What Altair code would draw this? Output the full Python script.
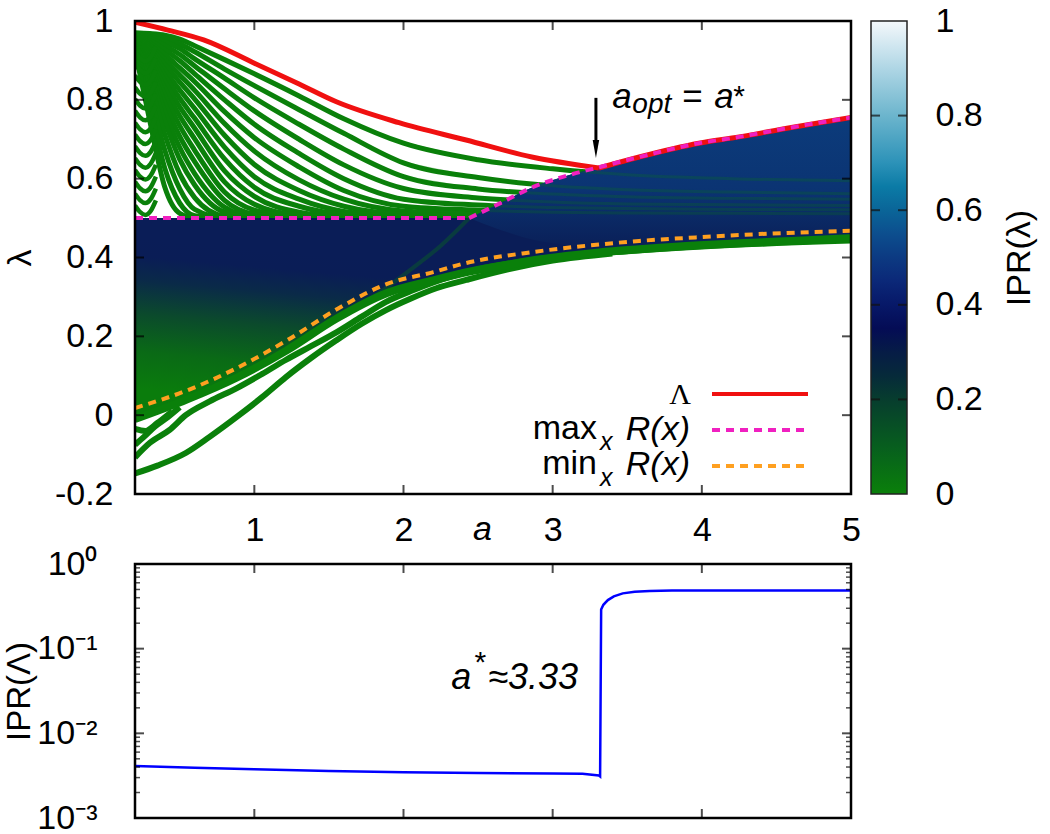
import altair as alt
import pandas as pd

# ---------------- data ----------------
# Lambda (largest eigenvalue), two pieces meeting at a* = 3.31
A_RED1 = [0.2, 0.42, 0.66, 1.0, 1.3, 1.55, 1.97, 2.42, 2.86, 3.31]
L_RED1 = [0.997, 0.977, 0.952, 0.893, 0.84, 0.795, 0.742, 0.698, 0.655, 0.627]
A_RED2 = [3.31, 3.58, 3.98, 4.25, 4.6, 5.0]
L_RED2 = [0.627, 0.655, 0.69, 0.706, 0.73, 0.755]

# max_x R(x)
A_MAX1 = [0.2, 1.0, 2.0, 2.44]
L_MAX1 = [0.5, 0.5, 0.5, 0.5]
A_MAX2 = [2.44, 2.65, 2.87, 3.09, 3.31, 3.58, 3.98, 4.25, 4.6, 5.0]
L_MAX2 = [0.5, 0.538, 0.579, 0.607, 0.629, 0.655, 0.69, 0.706, 0.73, 0.755]

# min_x R(x)
A_MIN = [0.2, 0.55, 0.88, 1.22, 1.55, 1.89, 2.2, 2.42, 2.87, 3.31, 3.58, 3.96, 4.25, 5.0]
L_MIN = [0.018, 0.063, 0.119, 0.19, 0.268, 0.333, 0.363, 0.386, 0.414, 0.433, 0.442, 0.451, 0.457, 0.468]

# dense (continuum) band of eigenvalues
A_DENSE = [0.2, 0.55, 0.88, 1.22, 1.55, 1.89, 2.2, 2.44, 2.65, 2.87, 3.09, 3.31, 3.58, 3.98, 4.25, 4.6, 5.0]
DENSE_LO = [-0.01, 0.04, 0.095, 0.165, 0.245, 0.31, 0.342, 0.364, 0.378, 0.393, 0.404, 0.413, 0.421, 0.431, 0.436, 0.442, 0.449]
DENSE_HI = [0.5, 0.5, 0.5, 0.5, 0.5, 0.5, 0.5, 0.5, 0.538, 0.579, 0.607, 0.629, 0.655, 0.69, 0.706, 0.73, 0.755]

# lighter-blue (more localised) part of the band, right of the kink
A_UPPER = [2.44, 2.65, 2.87, 3.09, 3.31, 3.58, 3.98, 4.25, 4.6, 5.0]
UPPER_LO = [0.5, 0.47, 0.445, 0.432, 0.425, 0.428, 0.436, 0.44, 0.446, 0.452]
UPPER_HI = [0.5, 0.538, 0.579, 0.607, 0.629, 0.655, 0.69, 0.706, 0.73, 0.755]

# isolated eigenvalue branches above the band (fanning out of the top-left corner)
A_FAN = [0.2, 0.3, 0.4, 0.5, 0.6, 0.8, 1.0, 1.3, 1.6, 2.0, 2.5, 3.0, 3.5, 4.2, 5.0]
FAN_CURVES = [
    [0.970, 0.968, 0.964, 0.954, 0.937, 0.902, 0.866, 0.810, 0.752, 0.690, 0.648, 0.625, 0.610, 0.600, 0.595],
    [0.968, 0.964, 0.956, 0.942, 0.922, 0.878, 0.836, 0.775, 0.715, 0.640, 0.603, 0.582, 0.572, 0.566, 0.562],
    [0.966, 0.960, 0.948, 0.930, 0.904, 0.855, 0.805, 0.738, 0.675, 0.605, 0.574, 0.561, 0.554, 0.550, 0.548],
    [0.964, 0.955, 0.938, 0.915, 0.886, 0.828, 0.772, 0.700, 0.635, 0.575, 0.551, 0.541, 0.536, 0.534, 0.532],
    [0.962, 0.950, 0.927, 0.899, 0.866, 0.800, 0.738, 0.664, 0.600, 0.548, 0.533, 0.527, 0.524, 0.522, 0.521],
    [0.960, 0.944, 0.915, 0.881, 0.846, 0.770, 0.704, 0.630, 0.570, 0.530, 0.520, 0.515, 0.513, 0.512, 0.511],
    [0.958, 0.938, 0.902, 0.863, 0.824, 0.740, 0.670, 0.597, 0.548, 0.518, 0.511, 0.508, 0.507, 0.506, 0.505],
    [0.956, 0.932, 0.889, 0.845, 0.802, 0.710, 0.636, 0.570, 0.530, 0.510, 0.506, 0.504, 0.503, 0.503, 0.502],
    [0.954, 0.926, 0.875, 0.825, 0.778, 0.680, 0.605, 0.548, 0.517, 0.505, 0.503, 0.502, 0.502, 0.501, 0.501],
    [0.952, 0.919, 0.861, 0.804, 0.753, 0.650, 0.578, 0.530, 0.509, 0.502, 0.501, 0.501, 0.500, 0.500, 0.500],
    [0.950, 0.911, 0.846, 0.782, 0.728, 0.620, 0.555, 0.515, 0.504, 0.501, 0.500, 0.500, 0.500, 0.500, 0.500],
    [0.948, 0.903, 0.829, 0.759, 0.701, 0.592, 0.535, 0.507, 0.502, 0.500, 0.500, 0.500, 0.500, 0.500, 0.500],
    [0.946, 0.894, 0.811, 0.734, 0.672, 0.566, 0.520, 0.503, 0.500, 0.500, 0.500, 0.500, 0.500, 0.500, 0.500],
    [0.944, 0.884, 0.791, 0.707, 0.643, 0.545, 0.510, 0.501, 0.500, 0.500, 0.500, 0.500, 0.500, 0.500, 0.500],
    [0.942, 0.873, 0.769, 0.679, 0.613, 0.528, 0.504, 0.500, 0.500, 0.500, 0.500, 0.500, 0.500, 0.500, 0.500],
    [0.940, 0.861, 0.745, 0.649, 0.584, 0.515, 0.502, 0.500, 0.500, 0.500, 0.500, 0.500, 0.500, 0.500, 0.500],
    [0.937, 0.842, 0.712, 0.612, 0.552, 0.505, 0.500, 0.500, 0.500, 0.500, 0.500, 0.500, 0.500, 0.500, 0.500],
    [0.934, 0.815, 0.672, 0.574, 0.522, 0.501, 0.500, 0.500, 0.500, 0.500, 0.500, 0.500, 0.500, 0.500, 0.500],
    [0.930, 0.784, 0.626, 0.538, 0.506, 0.500, 0.500, 0.500, 0.500, 0.500, 0.500, 0.500, 0.500, 0.500, 0.500],
    [0.925, 0.745, 0.578, 0.512, 0.501, 0.500, 0.500, 0.500, 0.500, 0.500, 0.500, 0.500, 0.500, 0.500, 0.500],
]
N_GHOST = 6  # branches still visible as faint stripes inside the band

# small U-shaped arcs stacked along the left edge
A_ARC = [0.2, 0.235, 0.27, 0.305, 0.34]
ARCS = [
    [0.532, 0.515, 0.508, 0.518, 0.545],
    [0.562, 0.545, 0.538, 0.548, 0.575],
    [0.592, 0.575, 0.568, 0.578, 0.605],
    [0.622, 0.605, 0.598, 0.608, 0.635],
    [0.652, 0.635, 0.628, 0.638, 0.665],
    [0.682, 0.665, 0.658, 0.668, 0.695],
    [0.712, 0.695, 0.688, 0.698, 0.725],
    [0.742, 0.725, 0.718, 0.728, 0.755],
    [0.772, 0.755, 0.748, 0.758, 0.785],
    [0.802, 0.785, 0.778, 0.788, 0.815],
    [0.832, 0.815, 0.808, 0.818, 0.845],
    [0.862, 0.845, 0.838, 0.848, 0.875],
    [0.892, 0.875, 0.868, 0.878, 0.905],
    [0.922, 0.905, 0.898, 0.908, 0.935],
]

# isolated branches below the band
A_LOW1 = [0.2, 0.35, 0.54, 0.7, 0.88, 1.05, 1.21, 1.38, 1.55, 1.72, 1.88, 2.05, 2.22, 2.42, 2.7, 3.0, 3.4]
L_LOW1 = [-0.148, -0.128, -0.096, -0.055, -0.005, 0.045, 0.096, 0.145, 0.19, 0.232, 0.266, 0.296, 0.322, 0.343, 0.37, 0.392, 0.41]
A_LOW2 = [0.2, 0.3, 0.43, 0.54, 0.7, 0.88, 1.05, 1.21, 1.38, 1.55, 1.72, 1.88, 2.05, 2.2, 2.5, 2.9, 3.4, 4.0, 5.0]
L_LOW2 = [-0.107, -0.07, -0.038, 0.0, 0.035, 0.068, 0.104, 0.14, 0.175, 0.21, 0.25, 0.287, 0.315, 0.337, 0.37, 0.395, 0.413, 0.428, 0.443]
A_LOW3 = [0.2, 0.26, 0.33, 0.42, 0.5]
L_LOW3 = [-0.075, -0.055, -0.03, -0.005, 0.02]
A_LOW4 = [0.2, 0.27, 0.35, 0.45]
L_LOW4 = [-0.035, -0.04, -0.02, 0.01]

# faint low-IPR streak inside the band
A_STREAK1 = [1.6, 1.8, 2.05, 2.25, 2.44]
L_STREAK1 = [0.25, 0.3, 0.37, 0.43, 0.5]

# lower panel: IPR(Lambda)
A_IPR = [0.2, 0.6, 1.0, 1.5, 2.0, 2.5, 3.0, 3.2, 3.31, 3.318, 3.325, 3.34, 3.37, 3.41, 3.47, 3.55, 3.65, 3.8, 4.2, 4.6, 5.0]
V_IPR = [0.0041, 0.00392, 0.00377, 0.0036, 0.00348, 0.0034, 0.00336, 0.00333, 0.00318, 0.0031, 0.29, 0.33, 0.375,
         0.415, 0.45, 0.47, 0.48, 0.485, 0.487, 0.488, 0.488]

# colour bar
IPR_POS = [0.0, 0.1, 0.2, 0.25, 0.3, 0.35, 0.4, 0.45, 0.5, 0.55, 0.6, 0.65, 0.7, 0.8, 0.9, 1.0]
IPR_COL = ['#0a800a', '#075e1e', '#073d2e', '#062a3a', '#061c46', '#040c55', '#071868', '#0b2878',
           '#0c3a82', '#0c4e8e', '#0a6598', '#0b7ba6', '#2c92b8', '#6cb5cd', '#afd6e5', '#f4f8fb']

X_TICKS = [1, 2, 3, 4]
Y_TICKS_TOP = [0, 0.2, 0.4, 0.6, 0.8]
Y_LABELS_TOP = [-0.2, 0, 0.2, 0.4, 0.6, 0.8, 1]
X_LABELS = [1, 2, 3, 4, 5]
CB_LABELS = [0, 0.2, 0.4, 0.6, 0.8, 1]
LOG_MAJOR = [0.01, 0.1]
LOG_MINOR = [m * 10.0 ** k for k in (-3, -2, -1) for m in range(2, 10)]

# ---------------- layout constants ----------------
W, H, HB, CBW = 716, 473, 254, 36
FONT = "Liberation Sans"
LFS = 34
GREEN_IPR = 0.0

XS = alt.Scale(domain=[0.2, 5], nice=False, zero=False)
YS = alt.Scale(domain=[-0.2, 1], nice=False, zero=False)
YBS = alt.Scale(type="log", domain=[0.001, 1], nice=False)
CBS = alt.Scale(domain=[0, 1], nice=False, zero=False)
CS = alt.Scale(domain=IPR_POS, range=IPR_COL, interpolate="rgb")

COMMON_AX = dict(ticks=False, tickSize=0, domain=False, grid=False, labelFontSize=LFS, labelOverlap=False,
                 labelFlush=False, labelFont=FONT, titleFont=FONT, labelColor="black", titleColor="black",
                 titleFontWeight="normal")

XAX = alt.Axis(values=X_LABELS, title=None, labelPadding=19, format="d", **COMMON_AX)
YAX = alt.Axis(values=Y_LABELS_TOP, title="λ", labelPadding=22,
               labelExpr="datum.value < 0 ? '-' + format(-datum.value, '~g') : format(datum.value, '~g')",
               titleFontSize=34, titleX=-115, titleY=H / 2, titleBaseline="middle", titleAlign="center",
               titleAngle=270, **COMMON_AX)


def X():
    return alt.X("a:Q", scale=XS, axis=XAX)


def Y(f="lam"):
    return alt.Y(f"{f}:Q", scale=YS, axis=YAX)


def curve_df(pairs):
    rows = []
    for cid, (xs, ys, ipr) in enumerate(pairs):
        for a, l in zip(xs, ys):
            rows.append({"a": a, "lam": l, "cid": cid, "ipr": ipr})
    return pd.DataFrame(rows)


COLOR = alt.Color("ipr:Q", scale=CS, legend=None)

fan_df = curve_df([(A_FAN, c, GREEN_IPR) for c in FAN_CURVES])
fan = alt.Chart(fan_df).mark_line(strokeWidth=5, interpolate="monotone", clip=True).encode(
    x=X(), y=Y(), detail="cid:N", color=COLOR)
ghost_df = fan_df[(fan_df["a"] >= 2.0) & (fan_df["cid"] < N_GHOST)]
fan_ghost = alt.Chart(ghost_df).mark_line(
    strokeWidth=3, interpolate="monotone", clip=True, opacity=0.22).encode(
    x=X(), y=Y(), detail="cid:N", color=COLOR)

arc_df = curve_df([(A_ARC, c, GREEN_IPR) for c in ARCS])
arcs = alt.Chart(arc_df).mark_line(strokeWidth=4.5, interpolate="monotone", clip=True).encode(
    x=X(), y=Y(), detail="cid:N", color=COLOR)

dense_df = pd.DataFrame({"a": A_DENSE, "lo": DENSE_LO, "hi": DENSE_HI, "ipr": GREEN_IPR})
dense = alt.Chart(dense_df).mark_area(
    interpolate="monotone", clip=True,
    color=alt.Gradient(gradient="linear", x1=0, y1=0.9, x2=0.1, y2=0.42,
                       stops=[alt.GradientStop(offset=0, color="#0a7c0c"),
                              alt.GradientStop(offset=0.25, color="#0a6a16"),
                              alt.GradientStop(offset=0.5, color="#0b4a2c"),
                              alt.GradientStop(offset=0.72, color="#0a2a48"),
                              alt.GradientStop(offset=0.88, color="#0a1d56"),
                              alt.GradientStop(offset=1, color="#0a1d57")])).encode(
    x=X(), y=Y("lo"), y2="hi:Q")

upper_df = pd.DataFrame({"a": A_UPPER, "lo": UPPER_LO, "hi": UPPER_HI})
upper = alt.Chart(upper_df).mark_area(
    interpolate="monotone", clip=True, opacity=0.95,
    color=alt.Gradient(gradient="linear", x1=0, y1=0, x2=0, y2=1,
                       stops=[alt.GradientStop(offset=0, color="#0c3d7d"),
                              alt.GradientStop(offset=0.55, color="#0b3574"),
                              alt.GradientStop(offset=1, color="#0a1f57")])).encode(
    x=X(), y=Y("lo"), y2="hi:Q")

streak_df = curve_df([(A_STREAK1, L_STREAK1, GREEN_IPR)])
streaks = alt.Chart(streak_df).mark_line(strokeWidth=4, interpolate="monotone", clip=True, opacity=0.3).encode(
    x=X(), y=Y(), detail="cid:N", color=COLOR)

low_df = curve_df([(A_LOW1, L_LOW1, GREEN_IPR), (A_LOW2, L_LOW2, GREEN_IPR),
                   (A_LOW3, L_LOW3, GREEN_IPR), (A_LOW4, L_LOW4, GREEN_IPR)])
lows = alt.Chart(low_df).mark_line(strokeWidth=6, interpolate="monotone", clip=True).encode(
    x=X(), y=Y(), detail="cid:N", color=COLOR)

band = alt.Chart(dense_df).mark_line(strokeWidth=8, interpolate="monotone", clip=True).encode(
    x=X(), y=Y("lo"), color=COLOR)

red_df = curve_df([(A_RED1, L_RED1, 0), (A_RED2, L_RED2, 0)])
red = alt.Chart(red_df).mark_line(color="#f01010", strokeWidth=5, interpolate="monotone", clip=True).encode(
    x=X(), y=Y(), detail="cid:N")

max_df = curve_df([(A_MAX1, L_MAX1, 0), (A_MAX2, L_MAX2, 0)])
rmax = alt.Chart(max_df).mark_line(color="#f020c0", strokeWidth=4, strokeDash=[8, 6],
                                   interpolate="monotone", clip=True).encode(x=X(), y=Y(), detail="cid:N")

min_df = pd.DataFrame({"a": A_MIN, "lam": L_MIN})
rmin = alt.Chart(min_df).mark_line(color="#ffa020", strokeWidth=4, strokeDash=[8, 6],
                                   interpolate="monotone", clip=True).encode(x=X(), y=Y())

# arrow a_opt = a*
arrow_df = pd.DataFrame({"a": [3.29], "lam": [0.805], "lam2": [0.685]})
arrow = alt.Chart(arrow_df).mark_rule(color="black", strokeWidth=3).encode(x=X(), y=Y(), y2="lam2:Q")
head_df = pd.DataFrame({"a": [3.29], "lam": [0.675]})
head = alt.Chart(head_df).mark_point(shape="M-0.36,-1L0.36,-1L0,1Z", size=324, filled=True,
                                     color="black", opacity=1).encode(x=X(), y=Y())

anch = pd.DataFrame({"a": [3.40], "lam": [0.779]})


def tx(df, text, dx=0, dy=0, size=35, style="italic", align="left", font=FONT, baseline="alphabetic"):
    return alt.Chart(df).mark_text(text=text, dx=dx, dy=dy, fontSize=size, fontStyle=style, align=align,
                                   baseline=baseline, font=font, color="black").encode(x=X(), y=Y())


aopt = [tx(anch, "a"), tx(anch, "opt", dx=20, dy=5, size=28), tx(anch, "=", dx=70, style="normal"),
        tx(anch, "a", dx=102), tx(anch, "*", dx=121, dy=-2, size=30, style="normal")]

one = pd.DataFrame({"k": [0]})


def ptx(text, x, y, size=LFS, style="normal", align="right", font=FONT):
    return alt.Chart(one).mark_text(text=text, fontSize=size, fontStyle=style, align=align,
                                    baseline="alphabetic", font=font, color="black").encode(
        x=alt.value(x), y=alt.value(y))


def prule(y, color, dash=None):
    kw = dict(color=color, strokeWidth=4)
    if dash:
        kw["strokeDash"] = dash
    return alt.Chart(one).mark_rule(**kw).encode(x=alt.value(577), x2=alt.value(673), y=alt.value(y))


legend = [
    ptx("Λ", 556, 383, size=30, font="Liberation Serif"),
    ptx("max", 462, 418), ptx("x", 465, 429, size=25, style="italic", align="left"),
    ptx("R(x)", 555, 419, style="italic"),
    ptx("min", 462, 453), ptx("x", 465, 465, size=25, style="italic", align="left"),
    ptx("R(x)", 555, 454, style="italic"),
    prule(373, "#f01010"), prule(409, "#f020c0", [8, 6]), prule(445, "#ffa020", [8, 6]),
]

a_lab = alt.Chart(pd.DataFrame({"a": [2.53]})).mark_text(
    text="a", fontSize=LFS, fontStyle="italic", baseline="top", font=FONT, color="black").encode(
    x=X(), y=alt.value(H + 19))

xt_df = pd.DataFrame({"a": X_TICKS})
yt_df = pd.DataFrame({"lam": Y_TICKS_TOP})
ticks_top = [
    alt.Chart(xt_df).mark_tick(orient="vertical", size=9, thickness=2, color="black").encode(x=X(), y=alt.value(4.5)),
    alt.Chart(xt_df).mark_tick(orient="vertical", size=9, thickness=2, color="black").encode(x=X(), y=alt.value(H - 4.5)),
    alt.Chart(yt_df).mark_tick(orient="horizontal", size=9, thickness=2, color="black").encode(y=Y(), x=alt.value(4.5)),
    alt.Chart(yt_df).mark_tick(orient="horizontal", size=9, thickness=2, color="black").encode(y=Y(), x=alt.value(W - 4.5)),
]


def frame(w, h, sw=2.5, color="black"):
    return alt.Chart(one).mark_rect(filled=False, color=color, strokeWidth=sw).encode(
        x=alt.value(0), x2=alt.value(w), y=alt.value(0), y2=alt.value(h))


top = alt.layer(fan, arcs, dense, upper, fan_ghost, streaks, lows, band, red, rmax, rmin, arrow, head,
                *aopt, *legend, a_lab, *ticks_top, frame(W, H)).properties(width=W, height=H)

# ---------------- colour bar ----------------
CBAX = alt.Axis(orient="right", values=CB_LABELS, title="IPR(λ)", labelPadding=28,
                labelExpr="format(datum.value, '~g')", titleFontSize=LFS, titleAngle=270, titleX=112,
                titleY=H / 2, titleBaseline="middle", titleAlign="center", **COMMON_AX)
cb_df = pd.DataFrame({"lo": [0.0], "hi": [1.0]})
cb_rect = alt.Chart(cb_df).mark_rect(
    color=alt.Gradient(gradient="linear", x1=0, y1=1, x2=0, y2=0,
                       stops=[alt.GradientStop(offset=p, color=c) for p, c in zip(IPR_POS, IPR_COL)]),
    stroke="#222222", strokeWidth=1.5).encode(
    y=alt.Y("lo:Q", scale=CBS, axis=CBAX), y2="hi:Q", x=alt.value(0), x2=alt.value(CBW))
cbt_df = pd.DataFrame({"lo": [0.2, 0.4, 0.6, 0.8]})
cb_ticks = [alt.Chart(cbt_df).mark_tick(orient="horizontal", size=9, thickness=2, color="#111111").encode(
    y=alt.Y("lo:Q", scale=CBS, axis=CBAX), x=alt.value(xv)) for xv in (4.5, CBW - 4.5)]
cbar = alt.layer(cb_rect, *cb_ticks).properties(width=CBW, height=H)

# ---------------- lower panel ----------------
YBAX = alt.Axis(values=[0.001, 0.01, 0.1, 1], title="IPR(Λ)", labelPadding=38,
                labelExpr="datum.value > 0.5 ? '10⁰' : datum.value > 0.05 ? '10⁻¹' : datum.value > 0.005 ? '10⁻²' : '10⁻³'",
                titleFontSize=33, titleX=-116, titleY=HB / 2, titleBaseline="middle", titleAlign="center",
                titleAngle=270, **COMMON_AX)


def XB():
    return alt.X("a:Q", scale=XS, axis=None)


def YB():
    return alt.Y("v:Q", scale=YBS, axis=YBAX)


ipr_df = pd.DataFrame({"a": A_IPR, "v": V_IPR})
ipr_line = alt.Chart(ipr_df).mark_line(color="#0000ff", strokeWidth=2.5, clip=True).encode(x=XB(), y=YB())

banch = pd.DataFrame({"a": [2.32], "v": [0.0334]})


def btx(text, dx=0, dy=0, size=36):
    return alt.Chart(banch).mark_text(text=text, dx=dx, dy=dy, fontSize=size, fontStyle="italic", align="left",
                                      baseline="alphabetic", font=FONT, color="black").encode(x=XB(), y=YB())


astar = [btx("a"), btx("*", dx=22, dy=-17, size=30), btx("≈3.33", dx=37)]

bmaj_df = pd.DataFrame({"v": LOG_MAJOR})
bmin_df = pd.DataFrame({"v": LOG_MINOR})
ticks_bot = [
    alt.Chart(xt_df).mark_tick(orient="vertical", size=9, thickness=2, color="black").encode(x=XB(), y=alt.value(4.5)),
    alt.Chart(xt_df).mark_tick(orient="vertical", size=9, thickness=2, color="black").encode(x=XB(), y=alt.value(HB - 4.5)),
    alt.Chart(bmaj_df).mark_tick(orient="horizontal", size=9, thickness=2, color="black").encode(y=YB(), x=alt.value(4.5)),
    alt.Chart(bmaj_df).mark_tick(orient="horizontal", size=9, thickness=2, color="black").encode(y=YB(), x=alt.value(W - 4.5)),
    alt.Chart(bmin_df).mark_tick(orient="horizontal", size=5, thickness=1.5, color="black").encode(y=YB(), x=alt.value(2.5)),
    alt.Chart(bmin_df).mark_tick(orient="horizontal", size=5, thickness=1.5, color="black").encode(y=YB(), x=alt.value(W - 2.5)),
]

bottom = alt.layer(ipr_line, *astar, *ticks_bot, frame(W, HB)).properties(width=W, height=HB)

row1 = alt.hconcat(top, cbar, spacing=9).resolve_scale(y="independent", x="independent")
chart = alt.vconcat(row1, bottom, spacing=0).resolve_scale(x="independent", y="independent").properties(
    padding={"left": 3, "top": 4, "right": 5, "bottom": 2}
).configure_view(stroke=None).configure_axis(
    labelFont=FONT, titleFont=FONT, labelColor="black", titleColor="black", titleFontWeight="normal"
)

chart.save("out.html", embed_options={"renderer": "svg", "actions": False})
